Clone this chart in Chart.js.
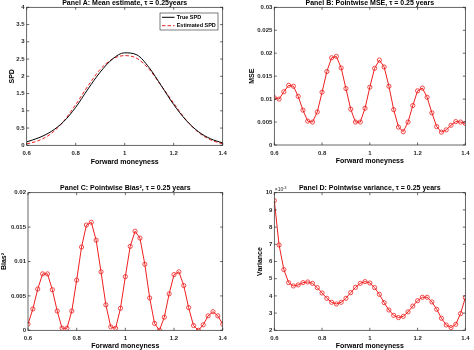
<!DOCTYPE html>
<html>
<head>
<meta charset="utf-8">
<script src="https://cdn.jsdelivr.net/npm/chart.js@4"></script>
<style>
  html, body { margin: 0; padding: 0; background: #fff; }
  #wrap { position: relative; width: 474px; height: 350px; overflow: hidden; }
  canvas { position: absolute; }
</style>
</head>
<body>
<div id="wrap">
  <canvas id="panelA" width="237" height="175" style="left:0;top:0"></canvas>
  <canvas id="panelB" width="237" height="175" style="left:237px;top:0"></canvas>
  <canvas id="panelC" width="237" height="175" style="left:0;top:175px"></canvas>
  <canvas id="panelD" width="237" height="175" style="left:237px;top:175px"></canvas>
</div>
<script>
// forward moneyness grid used for the pointwise statistics
const moneyness = [0.60, 0.62, 0.64, 0.66, 0.68, 0.70, 0.72, 0.74, 0.76, 0.78,
                   0.80, 0.82, 0.84, 0.86, 0.88, 0.90, 0.92, 0.94, 0.96, 0.98,
                   1.00, 1.02, 1.04, 1.06, 1.08, 1.10, 1.12, 1.14, 1.16, 1.18,
                   1.20, 1.22, 1.24, 1.26, 1.28, 1.30, 1.32, 1.34, 1.36, 1.38, 1.40];

// SPD curves (coarser grid)
const spdGrid = [0.60, 0.65, 0.70, 0.75, 0.80, 0.85, 0.90, 0.95, 1.00,
                 1.05, 1.10, 1.15, 1.20, 1.25, 1.30, 1.35, 1.40];
const trueSPD = [0.10, 0.22, 0.40, 0.68, 1.10, 1.63, 2.12, 2.50, 2.68,
                 2.62, 2.25, 1.72, 1.18, 0.73, 0.40, 0.19, 0.07];
const estSPD  = [0.04, 0.14, 0.34, 0.69, 1.18, 1.72, 2.20, 2.50, 2.60,
                 2.52, 2.20, 1.72, 1.22, 0.74, 0.38, 0.16, 0.04];

const mse = [0.0103, 0.0100, 0.0116, 0.0130, 0.0128, 0.0106, 0.0076, 0.0052, 0.0050, 0.0072,
             0.0115, 0.0160, 0.0190, 0.0193, 0.0168, 0.0123, 0.0078, 0.0050, 0.0050, 0.0080,
             0.0126, 0.0167, 0.0185, 0.0170, 0.0128, 0.0077, 0.0039, 0.0029, 0.0050, 0.0086,
             0.0118, 0.0124, 0.0104, 0.0070, 0.0040, 0.0028, 0.0033, 0.0043, 0.0051, 0.0050, 0.0047];

const bias2 = [0.0009, 0.0031, 0.0060, 0.0082, 0.0082, 0.0059, 0.0028, 0.0003, 0.0003, 0.0028,
               0.0073, 0.0121, 0.0153, 0.0157, 0.0131, 0.0085, 0.0037, 0.0005, 0.0003, 0.0032,
               0.0078, 0.0122, 0.0144, 0.0134, 0.0096, 0.0047, 0.0010, 0.0000, 0.0019, 0.0053,
               0.0081, 0.0085, 0.0065, 0.0033, 0.0007, 0.0000, 0.0008, 0.0021, 0.0027, 0.0021, 0.0009];

const variance = [0.00954, 0.00696, 0.00553, 0.00477, 0.00458, 0.00464, 0.00477, 0.00481, 0.00473, 0.00448,
                  0.00417, 0.00386, 0.00363, 0.00353, 0.00363, 0.00386, 0.00419, 0.00450, 0.00473, 0.00483,
                  0.00475, 0.00448, 0.00409, 0.00361, 0.00318, 0.00287, 0.00274, 0.00281, 0.00307, 0.00341,
                  0.00372, 0.00392, 0.00392, 0.00365, 0.00322, 0.00270, 0.00231, 0.00216, 0.00235, 0.00297, 0.00390];

// tick values
const xTicks = [0.6, 0.8, 1, 1.2, 1.4];
const spdTicks = [0, 0.5, 1, 1.5, 2, 2.5, 3, 3.5, 4];
const mseTicks = [0, 0.005, 0.01, 0.015, 0.02, 0.025, 0.03];
const biasTicks = [0, 0.005, 0.01, 0.015, 0.02];
const varTicks = [0.002, 0.003, 0.004, 0.005, 0.006, 0.007, 0.008, 0.009, 0.010];

const RED = 'rgb(238,32,32)';
const INK = '#262626';

Chart.defaults.font.family = "'Liberation Sans', Arial, sans-serif";
Chart.defaults.font.weight = 'bold';
Chart.defaults.color = INK;
Chart.defaults.animation = false;

const pts = (xs, ys) => xs.map((x, i) => ({ x: x, y: ys[i] }));
const fmt = v => String(+v.toFixed(4));

// box around the axes with inward ticks on all four sides
const axesFrame = {
  id: 'axesFrame',
  afterDatasetsDraw(chart) {
    const { ctx, chartArea: a, scales: { x, y } } = chart;
    const tl = 2.5;
    ctx.save();
    ctx.strokeStyle = INK;
    ctx.lineWidth = 0.7;
    ctx.strokeRect(a.left, a.top, a.right - a.left, a.bottom - a.top);
    ctx.beginPath();
    x.ticks.forEach(t => {
      const p = x.getPixelForValue(t.value);
      ctx.moveTo(p, a.bottom); ctx.lineTo(p, a.bottom - tl);
      ctx.moveTo(p, a.top); ctx.lineTo(p, a.top + tl);
    });
    y.ticks.forEach(t => {
      const p = y.getPixelForValue(t.value);
      ctx.moveTo(a.left, p); ctx.lineTo(a.left + tl, p);
      ctx.moveTo(a.right, p); ctx.lineTo(a.right - tl, p);
    });
    ctx.stroke();
    ctx.restore();
  }
};

// boxed legend in the upper right corner of panel A
const boxLegend = {
  id: 'boxLegend',
  afterDraw(chart) {
    const { ctx, chartArea: a } = chart;
    const w = 58, h = 17;
    const left = a.right - 4.7 - w, top = a.top + 5.7;
    ctx.save();
    ctx.fillStyle = '#fff';
    ctx.fillRect(left, top, w, h);
    ctx.strokeStyle = INK;
    ctx.lineWidth = 0.6;
    ctx.strokeRect(left, top, w, h);
    ctx.font = "bold 5.5px 'Liberation Sans', Arial, sans-serif";
    ctx.textBaseline = 'middle';
    chart.data.datasets.forEach((ds, i) => {
      const yy = top + 4.3 + i * 8.4;
      ctx.beginPath();
      ctx.strokeStyle = ds.borderColor;
      ctx.lineWidth = ds.borderWidth;
      ctx.setLineDash(ds.borderDash || []);
      ctx.moveTo(left + 2, yy);
      ctx.lineTo(left + 14.5, yy);
      ctx.stroke();
      ctx.setLineDash([]);
      ctx.fillStyle = '#000';
      ctx.fillText(ds.label, left + 16.7, yy);
    });
    ctx.restore();
  }
};

// x10^-3 multiplier above the variance axis
const expLabel = {
  id: 'expLabel',
  afterDraw(chart) {
    const { ctx, chartArea: a } = chart;
    ctx.save();
    ctx.fillStyle = INK;
    ctx.textBaseline = 'alphabetic';
    ctx.font = "5px 'Liberation Sans', Arial, sans-serif";
    ctx.fillText('\u00d710', a.left + 0.5, a.top - 2);
    ctx.font = "4px 'Liberation Sans', Arial, sans-serif";
    ctx.fillText('-3', a.left + 8.6, a.top - 4.2);
    ctx.restore();
  }
};

function panel(id, cfg) {
  const xScale = {
    type: 'linear', min: 0.6, max: 1.4,
    afterBuildTicks: s => { s.ticks = xTicks.map(v => ({ value: v })); },
    afterFit: s => { s.height = cfg.xHeight; },
    grid: { display: false, drawTicks: false },
    border: { display: false },
    ticks: { autoSkip: false, maxRotation: 0, padding: 4.5, font: { size: 6 }, callback: v => fmt(v) },
    title: { display: true, text: 'Forward moneyness', font: { size: 7, lineHeight: 1 },
             padding: { top: 0, bottom: cfg.xTitlePad }, color: '#000' }
  };
  const yScale = {
    type: 'linear', min: cfg.yTicks[0], max: cfg.yTicks[cfg.yTicks.length - 1],
    afterBuildTicks: s => { s.ticks = cfg.yTicks.map(v => ({ value: v })); },
    afterFit: s => { s.width = cfg.yWidth; },
    grid: { display: false, drawTicks: false },
    border: { display: false },
    ticks: { autoSkip: false, padding: 2, font: { size: 6 }, callback: cfg.yFmt || (v => fmt(v)) },
    title: { display: true, text: cfg.yTitle, font: { size: 7, lineHeight: 1 },
             padding: { top: cfg.yTitlePad, bottom: 0 }, color: '#000' }
  };
  return new Chart(document.getElementById(id), {
    type: 'line',
    data: { datasets: cfg.datasets },
    options: {
      responsive: false,
      devicePixelRatio: 1,
      layout: { padding: { top: cfg.padTop, right: cfg.padRight, left: 0, bottom: 0 } },
      scales: { x: xScale, y: yScale },
      plugins: {
        legend: { display: false },
        tooltip: { enabled: false },
        title: { display: true, text: cfg.title, fullSize: false, color: '#000',
                 font: { size: 7, lineHeight: 1 }, padding: { top: 0, bottom: cfg.titlePad } }
      }
    },
    plugins: [axesFrame].concat(cfg.extra || [])
  });
}

const markerSeries = (label, ys) => ({
  label: label,
  data: pts(moneyness, ys),
  borderColor: RED,
  borderWidth: 1,
  pointStyle: 'circle',
  pointRadius: 2.1,
  pointBorderWidth: 0.8,
  pointBackgroundColor: 'rgba(0,0,0,0)',
  pointBorderColor: RED,
  tension: 0
});

panel('panelA', {
  title: 'Panel A: Mean estimate, \u03c4 = 0.25years',
  padTop: 0, titlePad: 0.3, padRight: 14.3,
  yWidth: 26.7, xHeight: 29.7, yTitlePad: 8.2, xTitlePad: 9.2,
  yTitle: 'SPD', yTicks: spdTicks,
  datasets: [
    { label: 'True SPD', data: pts(spdGrid, trueSPD), borderColor: '#000', borderWidth: 1,
      pointRadius: 0, cubicInterpolationMode: 'monotone' },
    { label: 'Estimated SPD', data: pts(spdGrid, estSPD), borderColor: RED, borderWidth: 1,
      borderDash: [3.5, 2], pointRadius: 0, cubicInterpolationMode: 'monotone' }
  ],
  extra: [boxLegend]
});

panel('panelB', {
  title: 'Panel B: Pointwise MSE, \u03c4 = 0.25 years',
  padTop: 0, titlePad: 0.3, padRight: 4,
  yWidth: 37.3, xHeight: 30, yTitlePad: 11.2, xTitlePad: 10.5,
  yTitle: 'MSE', yTicks: mseTicks,
  datasets: [markerSeries('MSE', mse)]
});

panel('panelC', {
  title: 'Panel C: Pointwise Bias\u00b2, \u03c4 = 0.25 years',
  padTop: 10, titlePad: 0.7, padRight: 14.3,
  yWidth: 28, xHeight: 19.7, yTitlePad: 0.8, xTitlePad: 0,
  yTitle: 'Bias\u00b2', yTicks: biasTicks,
  datasets: [markerSeries('Bias\u00b2', bias2)]
});

panel('panelD', {
  title: 'Panel D: Pointwise variance, \u03c4 = 0.25 years',
  padTop: 10, titlePad: 0.7, padRight: 4,
  yWidth: 37.3, xHeight: 19.7, yTitlePad: 19.2, xTitlePad: 0,
  yTitle: 'Variance', yTicks: varTicks,
  yFmt: v => String(Math.round(v * 1000)),
  datasets: [markerSeries('Variance', variance)],
  extra: [expLabel]
});
</script>
</body>
</html>
